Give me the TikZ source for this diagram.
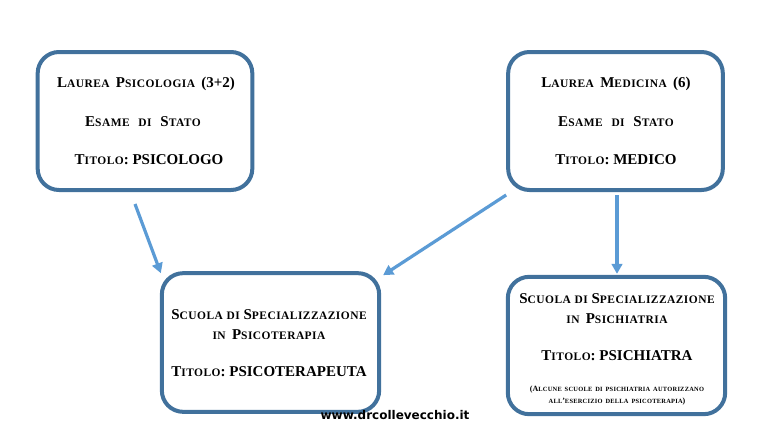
\documentclass[tikz,border=0pt]{standalone}
\usepackage{fontspec}
\setmainfont{Liberation Serif}
\newfontfamily\scfont[LetterSpace=4]{Liberation Serif}
\newfontfamily\urlfont{DejaVu Sans}
\usetikzlibrary{arrows.meta,calc}
\definecolor{boxline}{HTML}{41719C}
\definecolor{arrowc}{HTML}{5B9BD5}
\newcommand\sm{\scfont\bfseries\fontsize{8.6}{8.6}\selectfont}
\newcommand\tn{\fontsize{6}{6}\selectfont}
\newcommand\tns{\scfont\bfseries\fontsize{4.8}{6}\selectfont}
\tikzset{
  box/.style={draw=boxline, line width=3pt, rounded corners=16pt, fill=white, align=center,
    font=\bfseries\fontsize{11.25}{13}\selectfont, inner sep=0pt},
  arr/.style={draw=arrowc, line width=2.4pt, -{Triangle[length=7.5pt,width=8pt]}},
}
\begin{document}
\begin{tikzpicture}[x=0.75pt,y=-0.75pt]
\useasboundingbox (0,0) rectangle (768,432);
\node[box, minimum width=161pt, minimum height=103.5pt] (b1) at (145,121) {};
\node[box, minimum width=161pt, minimum height=103.5pt] (b2) at (615.5,121) {};
\node[box, minimum width=163pt, minimum height=104pt] (b3) at (270.5,342.5) {};
\node[box, minimum width=163pt, minimum height=103pt] (b4) at (616.5,345.5) {};
\begin{scope}[every node/.style={font=\bfseries\fontsize{11.25}{13}\selectfont, inner sep=0pt}]
\node (t1a) at (146,84) {L{\sm AUREA} \,P{\sm SICOLOGIA} \,(3+2)};
\node (t1b) at (143,122) {E{\sm SAME} \,\,{\sm DI} \,\,S{\sm TATO}};
\node (t1c) at (149,160) {T{\sm ITOLO}: PSICOLOGO};
\node (t2a) at (616,84) {L{\sm AUREA} \,M{\sm EDICINA} \,(6)};
\node (t2b) at (616,122) {E{\sm SAME} \,\,{\sm DI} \,\,S{\sm TATO}};
\node (t2c) at (616,160) {T{\sm ITOLO}: MEDICO};
\node (t3a) at (269,315) {S{\sm CUOLA} {\sm DI} S{\sm PECIALIZZAZIONE}};
\node (t3b) at (269,335) {{\sm IN} \,P{\sm SICOTERAPIA}};
\node (t3c) at (269,372) {T{\sm ITOLO}: PSICOTERAPEUTA};
\node (t4a) at (617,299) {S{\sm CUOLA} {\sm DI} S{\sm PECIALIZZAZIONE}};
\node (t4b) at (617,319) {{\sm IN} \,P{\sm SICHIATRIA}};
\node (t4c) at (617,356) {T{\sm ITOLO}: PSICHIATRA};
\node[font=\bfseries\tn] (t4d) at (617,390) {(A{\tns LCUNE \,SCUOLE \,DI \,PSICHIATRIA \,AUTORIZZANO}};
\node[font=\bfseries\tn] (t4e) at (617,402) {{\tns ALL}'{\tns ESERCIZIO \,DELLA \,PSICOTERAPIA})};
\end{scope}
\node[font=\urlfont\bfseries\fontsize{9}{10}\selectfont, inner sep=0pt] (url) at (395,415) {www.drcollevecchio.it};
\draw[arr] ($(b1.south)+(-10,12)$) -- ($(b3.north west)+(1,2)$);
\draw[arr] ($(b2.south west)+(0,3)$) -- ($(b3.north east)+(2,4)$);
\draw[arr] ($(b2.south)+(1.5,3)$) -- ($(b4.north)+(0.5,-1)$);
\end{tikzpicture}
\end{document}
